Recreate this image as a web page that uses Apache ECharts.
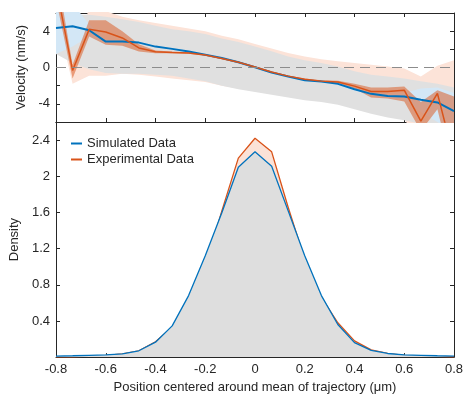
<!DOCTYPE html>
<html>
<head>
<meta charset="utf-8">
<script src="https://cdn.jsdelivr.net/npm/echarts@6/dist/echarts.min.js"></script>
<style>
  html, body { margin: 0; padding: 0; background: #fff; }
  #chart { width: 474px; height: 399px; }
</style>
</head>
<body>
<div id="chart"></div>
<script>
// positions (µm), shared by both panels
const xs = [-0.8, -0.733, -0.667, -0.6, -0.533, -0.467, -0.4, -0.333, -0.267, -0.2, -0.133, -0.067, 0,
  0.067, 0.133, 0.2, 0.267, 0.333, 0.4, 0.467, 0.533, 0.6, 0.667, 0.733, 0.8];

// top panel: velocity (nm/s)
const simVel = [4.36, 4.54, 4.1, 2.85, 2.85, 2.74, 2.3, 2.05, 1.75, 1.4, 1.04, 0.57, 0.03, -0.55, -1.0, -1.4,
  -1.55, -1.8, -2.4, -2.9, -3.15, -3.2, -3.55, -3.85, -4.8];
const expVel = [9, -0.32, 4.2, 3.9, 3.25, 2.15, 1.73, 1.66, 1.6, 1.38, 1.0, 0.57, 0.05, -0.5, -0.95, -1.3,
  -1.5, -1.6, -2.05, -2.65, -2.65, -2.5, -5.9, -2.85, -10];
const simSdLo = [1.5, 0.5, -0.2, -0.6, -0.7, -0.7, -0.8, -0.9, -1.2, -1.5, -2.0, -2.4, -2.7, -3.0, -3.3, -3.6,
  -3.8, -4.1, -4.6, -5.1, -5.5, -5.8, -6.2, -6.5, -7.0];
const simSdHi = [5.5, 5.8, 5.8, 5.6, 5.3, 5.0, 4.6, 4.2, 4.0, 3.7, 3.2, 2.8, 2.3, 1.8, 1.2, 0.8,
  0.5, 0.1, -0.4, -0.8, -1.0, -1.2, -1.5, -1.8, -2.2];
const simSeLo = [1.5, 2.3, 3.4, 2.65, 2.72, 2.62, 2.2, 1.95, 1.65, 1.3, 0.94, 0.47, -0.07, -0.65, -1.1, -1.5,
  -1.65, -1.95, -2.55, -3.05, -3.35, -3.6, -4.9, -6.0, -7.0];
const simSeHi = [7.0, 7.0, 4.8, 3.05, 2.98, 2.86, 2.4, 2.15, 1.85, 1.5, 1.14, 0.67, 0.13, -0.45, -0.9, -1.3,
  -1.45, -1.65, -2.25, -2.75, -2.95, -2.8, -2.3, -2.2, -2.8];
const expSdLo = [6, -1.8, -0.9, -0.9, -0.7, -0.8, -1.0, -1.2, -1.4, -1.6, -2.0, -2.3, -2.6, -2.9, -3.2, -3.5,
  -3.7, -3.9, -4.3, -4.8, -5.2, -5.6, -9, -7, -14];
const expSdHi = [12, 1.2, 6.5, 6.2, 5.6, 5.2, 4.9, 4.6, 4.3, 4.0, 3.5, 3.1, 2.6, 2.1, 1.6, 1.2,
  0.9, 0.7, 0.5, 0.3, 0.1, -0.1, -1.0, 0.2, 0.8];
const expSeLo = [7.5, -1.2, 3.4, 2.5, 2.4, 1.75, 1.58, 1.56, 1.51, 1.29, 0.92, 0.49, -0.03, -0.57, -1.03, -1.39,
  -1.6, -1.74, -2.3, -3.3, -3.4, -3.75, -7.0, -4.6, -12];
const expSeHi = [11, 0.3, 5.2, 5.2, 4.0, 2.55, 1.88, 1.76, 1.69, 1.47, 1.08, 0.65, 0.13, -0.43, -0.87, -1.21,
  -1.4, -1.46, -1.8, -2.2, -2.2, -2.1, -3.8, -2.5, -3.2];

// bottom panel: density
const simDensity = [0.01, 0.015, 0.02, 0.025, 0.035, 0.07, 0.165, 0.345, 0.68, 1.12, 1.6, 2.1, 2.27, 2.11, 1.62, 1.12,
  0.68, 0.36, 0.16, 0.075, 0.04, 0.025, 0.02, 0.015, 0.01];
const expDensity = [0.002, 0.004, 0.01, 0.02, 0.035, 0.07, 0.17, 0.33, 0.65, 1.0, 1.62, 2.2, 2.42, 2.27, 1.66, 1.08,
  0.66, 0.38, 0.18, 0.08, 0.04, 0.02, 0.012, 0.007, 0.004];

const BLUE = '#0072BD';
const ORANGE = '#D95319';
const INK = '#262626';
const FONT = 'Liberation Sans, Arial, sans-serif';

let chart = echarts.init(document.getElementById('chart'));

function pairs(ys) {
  return xs.map((x, i) => [x, ys[i]]);
}

// band = invisible lower line + stacked (hi - lo) area, on the category axis of the top panel
function band(id, lo, hi, color, extra) {
  let base = {
    type: 'line', xAxisIndex: 0, yAxisIndex: 0, stack: id, stackStrategy: 'all',
    data: lo, symbol: 'none', silent: true,
    lineStyle: { opacity: 0 }
  };
  let top = Object.assign({
    type: 'line', xAxisIndex: 0, yAxisIndex: 0, stack: id, stackStrategy: 'all',
    data: hi.map((h, i) => h - lo[i]), symbol: 'none', silent: true,
    lineStyle: { opacity: 0 },
    areaStyle: { color: color, opacity: 1 }
  }, extra || {});
  return [base, top];
}

const xCommon = {
  type: 'value', min: -0.8, max: 0.8, interval: 0.2,
  axisLine: { onZero: false, lineStyle: { color: INK, width: 1 } },
  axisTick: { inside: true, length: 4, lineStyle: { color: INK } },
  axisLabel: { show: false },
  splitLine: { show: false }
};
const yCommon = {
  type: 'value',
  axisLine: { show: true, onZero: false, lineStyle: { color: INK, width: 1 } },
  axisTick: { show: true, inside: true, length: 4, lineStyle: { color: INK } },
  axisLabel: { show: false },
  splitLine: { show: false }
};

option = {
  backgroundColor: '#fff',
  textStyle: { fontFamily: FONT },
  grid: [
    { left: 56, top: 13, width: 398, height: 109 },
    { left: 56, top: 122, width: 398, height: 239 }
  ],
  legend: {
    data: ['Simulated Data', 'Experimental Data'],
    orient: 'vertical',
    left: 71, top: 137, padding: 0, itemGap: 3,
    icon: 'rect', itemWidth: 11, itemHeight: 2,
    textStyle: { fontSize: 13, color: INK, fontFamily: FONT }
  },
  xAxis: [
    { gridIndex: 0, type: 'category', data: xs.map(String), boundaryGap: false, show: false },
    Object.assign({}, xCommon, { gridIndex: 0, position: 'bottom' }),
    Object.assign({}, xCommon, { gridIndex: 0, position: 'top' }),
    Object.assign({}, xCommon, {
      gridIndex: 1, position: 'bottom',
      axisLabel: { show: true, margin: 6, fontSize: 13, color: INK, fontFamily: FONT },
      name: 'Position centered around mean of trajectory (μm)',
      nameLocation: 'middle', nameGap: 21,
      nameTextStyle: { fontSize: 13, color: INK, fontFamily: FONT }
    }),
    Object.assign({}, xCommon, { gridIndex: 1, position: 'top', axisTick: { show: false } })
  ],
  yAxis: [
    Object.assign({}, yCommon, {
      gridIndex: 0, position: 'left', min: -6, max: 6, interval: 2,
      axisLabel: {
        show: true, margin: 6, fontSize: 13, color: INK, fontFamily: FONT,
        formatter: v => (v % 4 === 0 && Math.abs(v) < 6 ? String(v) : '')
      },
      name: 'Velocity (nm/s)', nameLocation: 'middle', nameGap: 28,
      nameTextStyle: { fontSize: 13, color: INK, fontFamily: FONT }
    }),
    Object.assign({}, yCommon, { gridIndex: 0, position: 'right', min: -6, max: 6, interval: 2 }),
    Object.assign({}, yCommon, {
      gridIndex: 1, position: 'left', min: 0, max: 2.6, interval: 0.4,
      axisLabel: {
        show: true, margin: 6, fontSize: 13, color: INK, fontFamily: FONT,
        formatter: v => (v === 0 || v > 2.5 ? '' : String(v))
      },
      name: 'Density', nameLocation: 'middle', nameGap: 29,
      nameTextStyle: { fontSize: 13, color: INK, fontFamily: FONT }
    }),
    Object.assign({}, yCommon, { gridIndex: 1, position: 'right', min: 0, max: 2.6, interval: 0.4 })
  ],
  series: [].concat(
    band('expSd', expSdLo, expSdHi, '#fce3d8'),
    band('simSd', simSdLo, simSdHi, '#e0e0e0', {
      markLine: {
        silent: true, symbol: 'none', label: { show: false },
        lineStyle: { color: '#8c8c8c', type: [10, 6], width: 1 },
        data: [{ yAxis: 0 }]
      }
    }),
    band('simSe', simSeLo, simSeHi, '#d3e7f6'),
    [{
      name: 'sim velocity', type: 'line', xAxisIndex: 0, yAxisIndex: 0,
      data: simVel, symbol: 'none',
      lineStyle: { color: BLUE, width: 2 }
    }],
    band('expSe', expSeLo, expSeHi, 'rgba(217,83,25,0.5)'),
    [{
      name: 'exp velocity', type: 'line', xAxisIndex: 0, yAxisIndex: 0,
      data: expVel, symbol: 'none',
      lineStyle: { color: ORANGE, width: 1.5 }
    },
    {
      name: 'Experimental Data', type: 'line', xAxisIndex: 3, yAxisIndex: 2,
      data: pairs(expDensity), symbol: 'none',
      itemStyle: { color: ORANGE },
      lineStyle: { color: ORANGE, width: 1.3 },
      areaStyle: { color: '#fbe2d7', opacity: 1 },
      z: 2
    },
    {
      name: 'Simulated Data', type: 'line', xAxisIndex: 3, yAxisIndex: 2,
      data: pairs(simDensity), symbol: 'none',
      itemStyle: { color: BLUE },
      lineStyle: { color: BLUE, width: 1.3 },
      areaStyle: { color: '#dedede', opacity: 1 },
      z: 3
    }]
  )
};

chart.setOption(option);
window.addEventListener('resize', function () {
  chart.resize();
});
</script>
</body>
</html>
